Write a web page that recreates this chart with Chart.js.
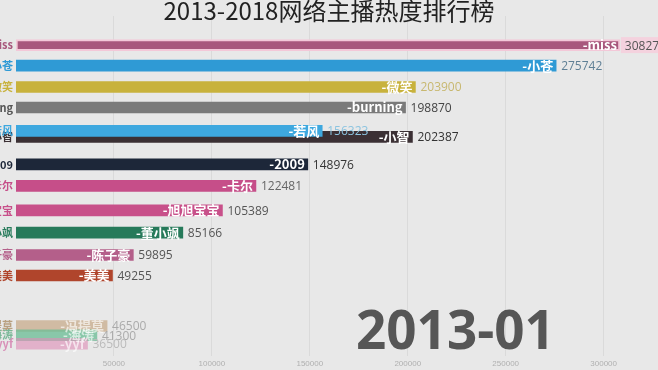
<!DOCTYPE html>
<html>
<head>
<meta charset="utf-8">
<script src="https://cdn.jsdelivr.net/npm/chart.js@4/dist/chart.umd.min.js"></script>
<style>
  html, body { margin: 0; padding: 0; }
  body { width: 658px; height: 370px; overflow: hidden; background: #e8e8e8; position: relative;
         font-family: 'Noto Sans', 'Noto Sans CJK SC', sans-serif; }
  #wrap { position: absolute; left: -70px; top: 0; width: 772px; height: 370px; }
  #title { position: absolute; left: 0; width: 658px; top: -8px; text-align: center;
           font-size: 24px; color: #222; font-family: 'Noto Sans CJK SC', sans-serif; }
  #stamp { position: absolute; left: 356px; top: 302px; font-size: 53px; line-height: 1;
           font-weight: bold; color: #565656; font-family: 'Open Sans', sans-serif; }
</style>
</head>
<body>
<div id="wrap"><canvas id="race" width="772" height="370"></canvas></div>
<div id="title">2013-2018网络主播热度排行榜</div>
<div id="stamp">2013-01</div>
<script>
// frame 2013-01 of the race
const names = ['miss', '小苍', '微笑', 'burning', '小智', '若风', '2009', '卡尔', '旭旭宝宝', '董小飒', '陈子豪', '美美', '冯提莫', '海涛', 'yyf'];
const values = [308278, 275742, 203900, 198870, 202387, 156323, 148976, 122481, 105389, 85166, 59895, 49255, 46500, 41300, 36500];
// rank positions mid-animation (1 = top)
const ranks = [1, 1.89, 2.82, 3.71, 4.98, 4.72, 6.18, 7.11, 8.17, 9.14, 10.11, 11, 13.19, 13.59, 13.96];
const xTicks = [50000, 100000, 150000, 200000, 250000, 300000];

const barColors = ['#a8577c', '#2f9ad5', '#c8b23c', '#7a7a7a', '#3b3034', '#3ea8df', '#1d2739', '#c64e89',
  '#c8508a', '#267a5a', '#b45f8a', '#b0452c', 'rgba(200,172,140,0.75)', 'rgba(105,188,148,0.75)', 'rgba(222,140,182,0.6)'];
const labelColors = ['#a8577c', '#2f9ad5', '#c8b23c', '#555', '#3b3034', '#3ea8df', '#1d2739', '#c64e89',
  '#c8508a', '#267a5a', '#b45f8a', '#b0452c', '#b8a080', '#7ab898', '#d890b8'];
const valueColors = ['#555', '#5f7f95', '#c8b870', '#444', '#333', '#8cc4e0', '#333', '#666',
  '#555', '#555', '#555', '#555', '#aaa', '#aaa', '#bbb'];

const barLabels = {
  id: 'barLabels',
  afterDatasetsDraw(chart) {
    const ctx = chart.ctx;
    const meta = chart.getDatasetMeta(0);
    ctx.save();
    ctx.textBaseline = 'middle';
    meta.data.forEach((bar, i) => {
      const faded = i >= 12;
      // name inside the bar end
      ctx.font = '600 13px "Noto Sans CJK SC", sans-serif';
      ctx.textAlign = 'right';
      ctx.fillStyle = faded ? 'rgba(255,255,255,0.65)' : '#fff';
      ctx.fillText('-' + names[i], bar.x - 3, bar.y);
      // value after the bar
      ctx.font = '12px "Open Sans", sans-serif';
      ctx.textAlign = 'left';
      const txt = String(values[i]);
      if (i === 0) {
        ctx.fillStyle = '#f4d2de';
        ctx.fillRect(bar.x + 1, bar.y - 8, ctx.measureText(txt).width + 10, 16);
      }
      ctx.fillStyle = valueColors[i];
      ctx.fillText(txt, bar.x + 5, bar.y + 1);
    });
    ctx.restore();
  }
};

new Chart(document.getElementById('race'), {
  type: 'bar',
  data: {
    datasets: [{
      data: values.map((v, i) => ({ x: v, y: ranks[i] })),
      backgroundColor: barColors,
      borderColor: names.map((n, i) => i === 0 ? '#f3c8d8' : 'rgba(0,0,0,0)'),
      borderWidth: names.map((n, i) => i === 0 ? 2 : 0),
      borderSkipped: false,
      barThickness: 11,
      clip: { left: 0, top: 20, right: 100, bottom: 30 }
    }]
  },
  options: {
    indexAxis: 'y',
    responsive: false,
    animation: false,
    layout: { padding: { top: 16, right: 20, left: 0, bottom: 0 } },
    plugins: { legend: { display: false }, tooltip: { enabled: false } },
    scales: {
      x: {
        type: 'linear',
        min: 0,
        max: 340000,
        grid: { color: '#dadada', drawTicks: false },
        border: { display: false },
        afterBuildTicks: s => { s.ticks = xTicks.map(v => ({ value: v })); },
        afterFit: s => { s.height = 14; },
        ticks: { color: '#b0b0b0', font: { size: 8 }, padding: 3, maxRotation: 0, callback: v => String(v) }
      },
      y: {
        type: 'linear',
        min: 0.23,
        max: 14,
        reverse: true,
        grid: { display: false, drawTicks: false },
        border: { display: false },
        afterBuildTicks: s => { s.ticks = ranks.map(v => ({ value: v })); },
        afterFit: s => { s.width = 86; },
        ticks: {
          autoSkip: false,
          padding: 3,
          font: { size: 11, weight: '600', family: "'Noto Sans CJK SC', sans-serif" },
          color: c => labelColors[c.index],
          callback: (v, i) => names[i]
        }
      }
    }
  },
  plugins: [barLabels]
});
</script>
</body>
</html>
